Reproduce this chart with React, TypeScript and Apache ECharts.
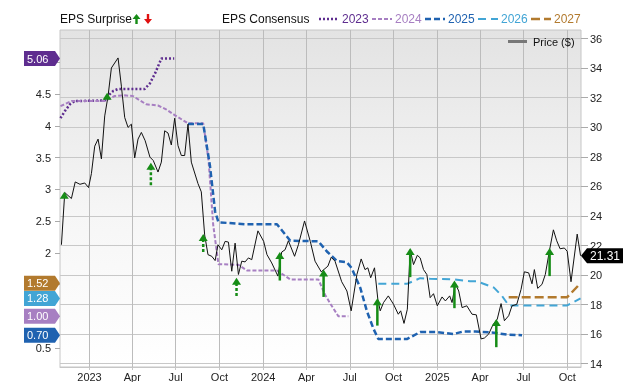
import React, { useEffect, useRef } from "react";
import * as echarts from "echarts";

const FONT = "'Liberation Sans', Arial, Helvetica, sans-serif";

// ---------- DATA ----------
const xMin = "2022-10-31";
const xMax = "2025-10-30";

const xTickDates = [
  "2023-01-01", "2023-04-01", "2023-07-01", "2023-10-01",
  "2024-01-01", "2024-04-01", "2024-07-01", "2024-10-01",
  "2025-01-01", "2025-04-01", "2025-07-01", "2025-10-01",
];
const xTickLabels = ["2023", "Apr", "Jul", "Oct", "2024", "Apr", "Jul", "Oct", "2025", "Apr", "Jul", "Oct"];

const leftTicks = [0.5, 1, 1.5, 2, 2.5, 3, 3.5, 4, 4.5, 5];
const leftLabelValues = [0.5, 2, 2.5, 3, 3.5, 4, 4.5];
const rightTicks = [14, 16, 18, 20, 22, 24, 26, 28, 30, 32, 34, 36];

const priceDates = [
  "2022-11-03", "2022-11-10", "2022-11-24", "2022-12-02", "2022-12-12", "2022-12-22", "2022-12-30",
  "2023-01-05", "2023-01-12", "2023-01-19", "2023-01-26", "2023-02-02", "2023-02-09", "2023-02-16",
  "2023-03-02", "2023-03-09", "2023-03-16", "2023-03-23", "2023-03-30", "2023-04-06", "2023-04-13",
  "2023-04-20", "2023-04-28", "2023-05-08", "2023-05-15", "2023-05-25", "2023-06-01", "2023-06-08",
  "2023-06-15", "2023-06-22", "2023-06-29", "2023-07-06", "2023-07-13", "2023-07-20", "2023-07-27",
  "2023-08-03", "2023-08-17", "2023-08-24", "2023-08-31", "2023-09-07", "2023-09-15", "2023-09-22",
  "2023-09-28", "2023-10-06", "2023-10-13", "2023-10-20", "2023-10-27", "2023-11-03", "2023-11-10",
  "2023-11-17", "2023-11-24", "2023-12-01", "2023-12-08", "2023-12-21", "2024-01-02", "2024-01-09",
  "2024-01-19", "2024-02-01", "2024-02-09", "2024-02-16", "2024-02-23", "2024-03-07", "2024-03-15",
  "2024-03-28", "2024-04-09", "2024-04-19", "2024-05-02", "2024-05-16", "2024-05-23", "2024-05-31",
  "2024-06-14", "2024-06-25", "2024-07-04", "2024-07-16", "2024-07-25", "2024-08-02", "2024-08-08",
  "2024-08-14", "2024-08-22", "2024-08-29", "2024-09-03", "2024-09-10", "2024-09-20", "2024-10-01",
  "2024-10-11", "2024-10-16", "2024-10-23", "2024-10-30", "2024-11-05", "2024-11-12", "2024-11-20",
  "2024-11-26", "2024-12-03", "2024-12-10", "2024-12-17", "2024-12-24", "2025-01-01", "2025-01-11",
  "2025-01-18", "2025-01-27", "2025-02-01", "2025-02-08", "2025-02-15", "2025-02-22", "2025-03-04",
  "2025-03-15", "2025-03-24", "2025-04-03", "2025-04-10", "2025-04-19", "2025-04-28", "2025-05-07",
  "2025-05-15", "2025-05-22", "2025-05-31", "2025-06-07", "2025-06-17", "2025-06-26", "2025-07-03",
  "2025-07-12", "2025-07-19", "2025-07-24", "2025-07-31", "2025-08-09", "2025-08-16", "2025-08-25",
  "2025-09-02", "2025-09-09", "2025-09-16", "2025-09-25", "2025-10-01", "2025-10-09", "2025-10-22",
  "2025-10-29",
];
const priceValues = [
  22.05, 25.58, 25.18, 26.3, 26.14, 26.23, 25.92,
  26.86, 28.72, 29.2, 27.86, 30.77, 32.11, 34.01,
  34.69, 32.78, 30.66, 29.99, 30.21, 27.93, 29.2,
  29.65, 29.09, 27.98, 27.75, 26.97, 27.64, 29.76,
  29.61, 28.8, 30.61, 28.76, 28.09, 28.09, 30.21,
  27.64, 26.19, 25.63, 22.72, 21.38, 21.27, 20.98,
  22.05, 21.71, 22.28, 22.23, 20.26, 22.16, 20.04,
  20.94, 20.89, 21.16, 21.04, 22.99, 22.28, 21.38,
  20.82, 19.93, 21.56, 21.71, 22.32, 21.27, 22.05,
  23.66, 22.28, 20.94, 20.22, 20.6, 21.2, 20.94,
  19.55, 18.92, 17.58, 20.04, 21.09, 20.37, 20.49,
  19.82, 20.49, 18.36, 17.58, 18.14, 18.59, 18.02,
  17.35, 17.58, 16.73, 17.69, 21.71, 20.71, 21.34,
  21.16, 20.37, 20.04, 18.47, 18.74, 17.92, 18.52,
  18.25, 18.59, 18.14, 19.41, 18.92, 17.8, 17.92,
  17.35, 17.31, 15.68, 15.74, 16.01, 16.64, 17.02,
  18.07, 16.91, 17.25, 17.92, 18.02, 19.03, 20.22,
  20.15, 19.41, 20.37, 19.1, 19.37, 20.04, 21.71,
  23.06, 22.32, 21.78, 21.83, 21.61, 19.55, 22.77,
  21.31,
];

const eps2023Dates = [
  "2022-11-01", "2022-11-10", "2022-11-21", "2022-12-01", "2023-02-02", "2023-02-07",
  "2023-02-20", "2023-03-02", "2023-04-27", "2023-05-08", "2023-05-19", "2023-06-01", "2023-06-28",
];
const eps2023Values = [4.12, 4.23, 4.34, 4.39, 4.4, 4.46, 4.55, 4.58, 4.58, 4.67, 4.83, 5.06, 5.06];

const eps2024Dates = [
  "2022-11-01", "2022-11-24", "2023-02-02", "2023-02-23", "2023-03-16", "2023-04-02",
  "2023-04-30", "2023-05-25", "2023-06-11", "2023-06-29", "2023-07-27", "2023-08-28",
  "2023-09-08", "2023-09-18", "2023-09-29", "2023-11-10", "2023-11-28", "2024-01-30",
  "2024-02-27", "2024-04-26", "2024-05-10", "2024-05-21", "2024-06-07", "2024-06-28",
];
const eps2024Values = [
  4.31, 4.39, 4.39, 4.47, 4.48, 4.47, 4.34, 4.32, 4.26, 4.17, 4.04, 4.04,
  3.48, 2.44, 1.82, 1.81, 1.72, 1.72, 1.58, 1.58, 1.34, 1.2, 1.0, 1.0,
];

const eps2025Dates = [
  "2023-07-27", "2023-08-28", "2023-09-11", "2023-09-22", "2023-09-29", "2023-11-24",
  "2024-01-30", "2024-02-27", "2024-04-26", "2024-05-14", "2024-06-04", "2024-06-25",
  "2024-07-05", "2024-07-23", "2024-08-06", "2024-08-20", "2024-08-30", "2024-10-29",
  "2024-11-26", "2024-12-31", "2025-02-04", "2025-02-25", "2025-03-22", "2025-04-30",
  "2025-05-28", "2025-06-28",
];
const eps2025Values = [
  4.03, 4.03, 3.38, 2.65, 2.48, 2.45, 2.45, 2.19, 2.18, 2.02, 1.87, 1.85,
  1.76, 1.45, 1.08, 0.8, 0.64, 0.64, 0.75, 0.75, 0.72, 0.76, 0.76, 0.74,
  0.71, 0.7,
];

const eps2026Dates = [
  "2024-08-30", "2024-10-29", "2024-11-26", "2024-12-17", "2025-02-04", "2025-03-11",
  "2025-03-25", "2025-04-30", "2025-05-17", "2025-05-31", "2025-10-01", "2025-10-29",
];
const eps2026Values = [1.51, 1.51, 1.6, 1.59, 1.58, 1.55, 1.55, 1.45, 1.32, 1.17, 1.17, 1.28];

const eps2027Dates = ["2025-05-31", "2025-10-01", "2025-10-29"];
const eps2027Values = [1.3, 1.3, 1.52];

const surpriseDates = [
  "2022-11-09", "2023-02-07", "2023-05-10", "2023-08-28", "2023-11-06", "2024-02-05",
  "2024-05-07", "2024-08-28", "2024-11-05", "2025-02-06", "2025-05-05", "2025-08-25",
];
const surpriseTop = [25.63, 32.34, 27.6, 22.77, 19.82, 21.56, 20.37, 18.43, 21.83, 19.63, 17.02, 21.83];
const surpriseBase = [25.18, 31.89, 26.07, 21.56, 18.59, 19.63, 18.52, 16.58, 19.86, 17.76, 15.12, 19.93];
const surpriseDashed = [0, 0, 1, 1, 1, 0, 0, 0, 0, 0, 0, 0];

// ---------- STYLE ----------
const C2023 = "#5e2d8f";
const C2024 = "#a77fc2";
const C2025 = "#1f62b0";
const C2026 = "#42a5d5";
const C2027 = "#b27a2e";
const GREEN = "#168c16";
const RED = "#e01010";
const GRIDC = "#c8c8c8";
const VGRIDC = "#bcbcbc";

const T = (s: string) => new Date(s + "T00:00:00").getTime();

export default function App() {
  const ref = useRef<HTMLDivElement>(null);

  useEffect(() => {
    const chart = echarts.init(ref.current!, null, { renderer: "svg" });
    const GL = 60, GT = 30, GW = 521, GH = 340;
    const zip = (ds: string[], vs: number[]) => ds.map((d, i) => [T(d), vs[i]]);

    const consensus = [
      { name: "2023", dates: eps2023Dates, values: eps2023Values, color: C2023, dash: [2, 2], width: 2.5 },
      { name: "2024", dates: eps2024Dates, values: eps2024Values, color: C2024, dash: [4, 2], width: 2 },
      { name: "2025", dates: eps2025Dates, values: eps2025Values, color: C2025, dash: [6, 3], width: 2.5 },
      { name: "2026", dates: eps2026Dates, values: eps2026Values, color: C2026, dash: [8, 5], width: 2 },
      { name: "2027", dates: eps2027Dates, values: eps2027Values, color: C2027, dash: [9, 4], width: 2.5 },
    ];

    const xTickTs = xTickDates.map(T);
    const labelOf = (v: number) => {
      let best = -1, bd = Infinity;
      xTickTs.forEach((t, i) => { const d = Math.abs(t - v); if (d < bd) { bd = d; best = i; } });
      return best >= 0 && bd < 86400000 ? xTickLabels[best] : "";
    };

    const axisText = { fontFamily: FONT, fontSize: 11, color: "#222" };

    const option: any = {
      animation: false,
      textStyle: { fontFamily: FONT },
      grid: {
        left: GL, top: GT, width: GW, height: GH, show: true,
        backgroundColor: new echarts.graphic.LinearGradient(0, 0, 0, 1, [
          { offset: 0, color: "#e3e3e3" },
          { offset: 0.55, color: "#f6f6f6" },
          { offset: 1, color: "#ffffff" },
        ]),
        borderColor: "#c6c6c6", borderWidth: 1,
      },
      xAxis: {
        type: "value", min: T(xMin), max: T(xMax),
        axisLine: { show: true, lineStyle: { color: "#c6c6c6" } },
        axisTick: { show: true, customValues: xTickTs, length: 3, lineStyle: { color: "#c6c6c6" } },
        axisLabel: { ...axisText, customValues: xTickTs, formatter: (v: number) => labelOf(v), margin: 4 },
        splitLine: { show: true, lineStyle: { color: VGRIDC, width: 1 } },
      },
      yAxis: [
        {
          type: "value", position: "left", min: 0.2, max: 5.51,
          axisLine: { show: false },
          axisTick: { show: true, customValues: leftTicks, length: 5, lineStyle: { color: "#aaaaaa" } },
          axisLabel: { ...axisText, customValues: leftLabelValues, formatter: (v: number) => String(v), margin: 9 },
          splitLine: { show: false },
        },
        {
          type: "value", position: "right", min: 13.78, max: 36.58,
          axisLine: { show: false },
          axisTick: { show: true, customValues: rightTicks, length: 7, lineStyle: { color: "#aaaaaa" } },
          axisLabel: { ...axisText, customValues: rightTicks, formatter: (v: number) => String(v), margin: 9 },
          splitLine: { show: true, lineStyle: { color: GRIDC, width: 1 } },
        },
      ],
      series: [
        ...consensus.map((c) => ({
          name: c.name, type: "line", yAxisIndex: 0, showSymbol: false, symbol: "none",
          data: zip(c.dates, c.values), z: 3,
          lineStyle: { color: c.color, width: c.width, type: c.dash },
        })),
        {
          name: "Price ($)", type: "line", yAxisIndex: 1, showSymbol: false, symbol: "none",
          data: zip(priceDates, priceValues), z: 4,
          lineStyle: { color: "#111111", width: 1 },
        },
        {
          name: "EPS Surprise", type: "custom", yAxisIndex: 1, z: 6,
          data: surpriseDates.map((d, i) => [T(d), surpriseTop[i], surpriseBase[i], surpriseDashed[i]]),
          encode: { x: 0, y: [1, 2] },
          renderItem: (params: any, api: any) => {
            const tip = api.coord([api.value(0), api.value(1)]);
            const base = api.coord([api.value(0), api.value(2)]);
            const dashed = api.value(3) === 1;
            const hh = 7, hw = 4.5;
            const children: any[] = [];
            if (base[1] - tip[1] > hh) {
              children.push({
                type: "line",
                shape: { x1: tip[0], y1: base[1], x2: tip[0], y2: tip[1] + hh - 1 },
                style: { stroke: GREEN, lineWidth: 2.5, lineDash: dashed ? [3, 2] : null },
              });
            }
            children.push({
              type: "polygon",
              shape: { points: [[tip[0], tip[1]], [tip[0] - hw, tip[1] + hh], [tip[0] + hw, tip[1] + hh]] },
              style: { fill: GREEN },
            });
            return { type: "group", children };
          },
        },
      ],
    };

    chart.setOption(option);

    const els: any[] = [];

    // legend
    const LY = 19;
    els.push(
      { type: "text", x: 60, y: LY, z: 100, style: { text: "EPS Surprise", font: `12px ${FONT}`, fill: "#111", verticalAlign: "middle" } },
      { type: "polygon", z: 100, shape: { points: [[136.5, LY - 5], [132.5, LY], [135.3, LY], [135.3, LY + 5], [137.7, LY + 5], [137.7, LY], [140.5, LY]] }, style: { fill: GREEN } },
      { type: "polygon", z: 100, shape: { points: [[148, LY + 5], [144, LY], [146.8, LY], [146.8, LY - 5], [149.2, LY - 5], [149.2, LY], [152, LY]] }, style: { fill: RED } },
      { type: "text", x: 222, y: LY, z: 100, style: { text: "EPS Consensus", font: `12px ${FONT}`, fill: "#111", verticalAlign: "middle" } },
    );
    const legendX = [319, 372, 425, 478, 531];
    consensus.forEach((c, i) => {
      const x0 = legendX[i];
      els.push({
        type: "line", z: 100, shape: { x1: x0, y1: LY, x2: x0 + 20, y2: LY },
        style: { stroke: c.color, lineWidth: c.width, lineDash: c.dash },
      });
      els.push({
        type: "text", z: 100, x: x0 + 23, y: LY,
        style: { text: c.name, font: `12px ${FONT}`, fill: c.color, verticalAlign: "middle" },
      });
    });
    els.push({ type: "line", z: 100, shape: { x1: 508, y1: 41.5, x2: 527, y2: 41.5 }, style: { stroke: "#777", lineWidth: 3 } });
    els.push({ type: "text", z: 100, x: 533, y: 41.5, style: { text: "Price ($)", font: `11px ${FONT}`, fill: "#111", verticalAlign: "middle" } });

    // left tags with latest consensus values
    consensus.forEach((c) => {
      const v = c.values[c.values.length - 1];
      const y = chart.convertToPixel({ yAxisIndex: 0 } as any, v) as unknown as number;
      els.push({
        type: "polygon", z: 100,
        shape: { points: [[24, y - 7.5], [55, y - 7.5], [60, y], [55, y + 7.5], [24, y + 7.5]] },
        style: { fill: c.color },
      });
      els.push({
        type: "text", z: 101, x: 27, y,
        style: { text: v.toFixed(2), font: `11px ${FONT}`, fill: "#fff", verticalAlign: "middle" },
      });
    });

    // right tag with latest price
    const lastPrice = priceValues[priceValues.length - 1];
    const py = chart.convertToPixel({ yAxisIndex: 1 } as any, lastPrice) as unknown as number;
    const RX = GL + GW;
    els.push({
      type: "polygon", z: 100,
      shape: { points: [[RX, py], [RX + 6, py - 7.5], [RX + 42, py - 7.5], [RX + 42, py + 7.5], [RX + 6, py + 7.5]] },
      style: { fill: "#000" },
    });
    els.push({
      type: "text", z: 101, x: RX + 9, y: py,
      style: { text: lastPrice.toFixed(2), font: `12px ${FONT}`, fill: "#fff", verticalAlign: "middle" },
    });

    chart.setOption({ graphic: { elements: els } });

    return () => chart.dispose();
  }, []);

  return <div ref={ref} style={{ position: "fixed", left: 0, top: 0, width: 640, height: 382 }} />;
}
